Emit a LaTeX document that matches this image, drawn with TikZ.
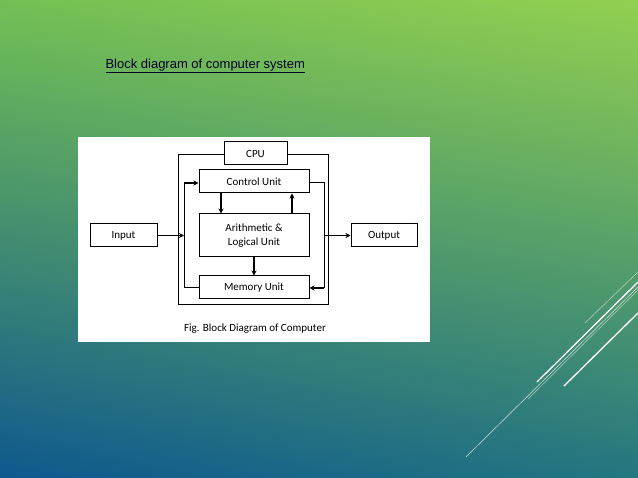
\documentclass[tikz,border=0pt]{standalone}
\usepackage{fontspec}
\setmainfont{Liberation Sans}
\newfontfamily\diag{Carlito}
\usetikzlibrary{arrows.meta,shadings}
\definecolor{cUL}{RGB}{116,192,84}
\definecolor{cUR}{RGB}{146,208,80}
\definecolor{cLL}{RGB}{14,88,142}
\definecolor{cLR}{RGB}{36,118,128}
\begin{document}
\begin{tikzpicture}[x=1pt,y=-1pt,
  blk/.style={draw=black,line width=1pt,fill=white,font=\diag\fontsize{11}{12}\selectfont,inner sep=0pt,align=center},
  arr/.style={draw=black,line width=1.1pt,-{Stealth[length=5pt,width=5pt]}},
  ln/.style={draw=black,line width=1pt},
  deco/.style={draw=white,line cap=round}]
\useasboundingbox (0,0) rectangle (638,478);
\shade[upper left=cUL, upper right=cUR, lower left=cLL, lower right=cLR]
  (0,0) rectangle (638,478);
% decorative lines
\draw[deco,line width=1.3pt] (537,382) -- (638,282);
\draw[deco,line width=1.3pt] (564,386) -- (638,313);
\draw[deco,line width=0.5pt,opacity=0.8] (466,457) -- (638,287);
\draw[deco,line width=0.5pt,opacity=0.6] (585,323) -- (638,272);
\draw[deco,line width=0.5pt,opacity=0.6] (528,399) -- (638,290);
% title
\node[anchor=west,text=black!85!blue,font=\fontsize{13}{15}\selectfont] (title) at (102,66) {\underline{Block diagram of computer system}};
% panel
\fill[white] (78,137) rectangle (430,342);
\node[draw=black,line width=1pt,minimum width=150pt,minimum height=150pt] (outer) at (253,230) {};
\node[blk,minimum width=63pt,minimum height=23pt] (cpu) at (255.5,153.5) {CPU};
\node[blk,minimum width=110pt,minimum height=23pt] (cu) at (254,181.5) {Control Unit};
\node[blk,minimum width=110pt,minimum height=43pt] (alu) at (254,235.5) {Arithmetic \&\\[2pt] Logical Unit};
\node[blk,minimum width=110pt,minimum height=23pt] (mem) at (254,287.5) {Memory Unit};
\node[blk,minimum width=67pt,minimum height=23pt] (in) at (123.5,235.5) {Input};
\node[blk,minimum width=66pt,minimum height=23pt] (out) at (384,235.5) {Output};
\coordinate (lt) at (184,183);
\coordinate (lb) at (184,288);
\coordinate (rt) at (324,183);
\coordinate (rb) at (324,288);
\draw[ln] (mem.west |- lb) -- (lb) -- (lt);
\draw[arr] (lt) -- (cu.west |- lt);
\draw[arr] (in.east) -- (184,235.5);
\draw[ln] (cu.east |- rt) -- (rt) -- (rb);
\draw[arr] (rb) -- (mem.east |- rb);
\draw[arr] (324,235.5) -- (out.west);
\draw[arr] (cu.south -| 221,0) -- (alu.north -| 221,0);
\draw[arr] (alu.north -| 292,0) -- (cu.south -| 292,0);
\draw[arr] (alu.south) -- (mem.north);
\node[font=\diag\fontsize{11}{12}\selectfont] (cap) at (255,329) {Fig. Block Diagram of Computer};
\end{tikzpicture}
\end{document}
